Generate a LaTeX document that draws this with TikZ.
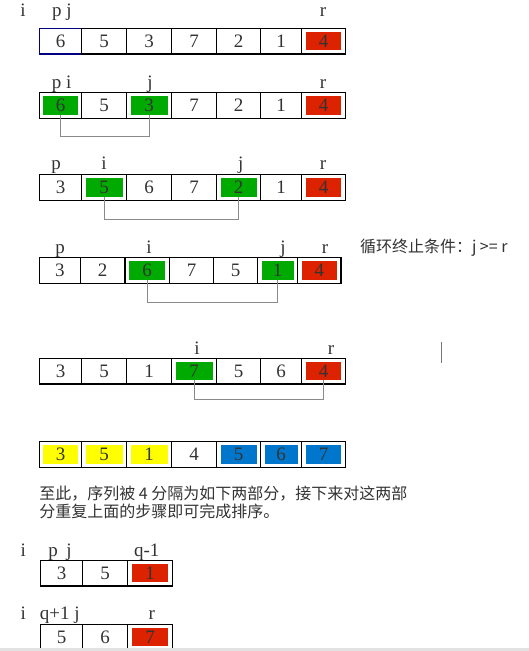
\documentclass[tikz,border=0pt]{standalone}
\usepackage{fontspec}
\setmainfont{Liberation Serif}
\newfontfamily\cjk{Noto Sans CJK SC}
\definecolor{cred}{HTML}{DD2200}
\definecolor{cgreen}{HTML}{00AA00}
\definecolor{cyellow}{HTML}{FFFF00}
\definecolor{cblue}{HTML}{0077CC}
\definecolor{cnavy}{HTML}{000080}
\definecolor{ctext}{HTML}{333333}
\definecolor{clink}{HTML}{8A8A8A}
\definecolor{cband}{HTML}{E2E2E2}
\definecolor{cstray}{HTML}{777777}
\tikzset{
  cellbox/.style={draw=black, line width=1.3pt, inner sep=0pt, outer sep=0pt, text=ctext, font=\fontsize{19}{19}\selectfont},
  fillbox/.style={draw=none, inner sep=0pt, outer sep=0pt},
  lab/.style={anchor=base, inner sep=0pt, outer sep=0pt, text=ctext, font=\fontsize{19}{19}\selectfont},
  note/.style={anchor=base west, inner sep=0pt, outer sep=0pt, text=ctext, font=\cjk\fontsize{16}{18.4}\selectfont},
  link/.style={draw=clink, line width=1pt},
}
\newcommand\mkcell[7][]{% [opts] name x1 x2 y1 y2 text
  \pgfmathsetmacro\cw{#4-#3}\pgfmathsetmacro\ch{#6-#5}%
  \pgfmathsetmacro\cx{(#3+#4)/2}\pgfmathsetmacro\cy{(#5+#6)/2}%
  \node[cellbox, minimum width=\cw pt, minimum height=\ch pt, #1] (#2) at (\cx,\cy) {#7};}
\newcommand\mkfill[6]{% name x1 x2 y1 y2 color
  \pgfmathsetmacro\cw{#3-#2-8}\pgfmathsetmacro\ch{#5-#4-7.5}%
  \pgfmathsetmacro\cx{(#2+#3)/2}\pgfmathsetmacro\cy{(#4+#5)/2}%
  \node[fillbox, fill=#6, minimum width=\cw pt, minimum height=\ch pt] (#1) at (\cx,\cy) {};}
\begin{document}
\begin{tikzpicture}[x=1pt, y=-1pt]
\useasboundingbox (0,0) rectangle (529,651);
\fill[white] (0,0) rectangle (529,651);

% ---------- Row 1
\node[lab] (l1i) at (23,16) {i};
\node[lab] (l1pj) at (62,16) {p j};
\node[lab] (l1r) at (323,16) {r};
\mkfill{r1f7}{301.7}{345.3}{28.3}{54}{cred}
\mkcell[draw=cnavy]{r1c1}{39.3}{81.7}{28.3}{54}{6}
\foreach \xa/\xb/\d [count=\k from 2] in {81.7/126.7/5,126.7/171.7/3,171.7/216.7/7,216.7/260.7/2,260.7/301.7/1,301.7/345.3/4}
  {\mkcell{r1c\k}{\xa}{\xb}{28.3}{54}{\d}}

% ---------- Row 2
\node[lab] (l2pi) at (61.7,88.3) {p i};
\node[lab] (l2j) at (150,88.3) {j};
\node[lab] (l2r) at (323,88.3) {r};
\mkfill{r2f1}{39.3}{81.7}{92.3}{118.3}{cgreen}
\mkfill{r2f3}{126.7}{171.7}{92.3}{118.3}{cgreen}
\mkfill{r2f7}{301.7}{345.3}{92.3}{118.3}{cred}
\foreach \xa/\xb/\d [count=\k] in {39.3/81.7/6,81.7/126.7/5,126.7/171.7/3,171.7/216.7/7,216.7/260.7/2,260.7/301.7/1,301.7/345.3/4}
  {\mkcell{r2c\k}{\xa}{\xb}{92.3}{118.3}{\d}}
\coordinate (b2) at (0,136);
\draw[link] (r2f1.south) -- (r2f1.south |- b2) -| (r2f3.south);

% ---------- Row 3
\node[lab] (l3p) at (56,169.3) {p};
\node[lab] (l3i) at (104,169.3) {i};
\node[lab] (l3j) at (240.7,169.3) {j};
\node[lab] (l3r) at (323,169.3) {r};
\mkfill{r3f2}{81.7}{126.7}{174.3}{200.3}{cgreen}
\mkfill{r3f5}{216.7}{260.7}{174.3}{200.3}{cgreen}
\mkfill{r3f7}{301.7}{345.3}{174.3}{200.3}{cred}
\foreach \xa/\xb/\d [count=\k] in {39.3/81.7/3,81.7/126.7/5,126.7/171.7/6,171.7/216.7/7,216.7/260.7/2,260.7/301.7/1,301.7/345.3/4}
  {\mkcell{r3c\k}{\xa}{\xb}{174.3}{200.3}{\d}}
\coordinate (b3) at (0,219.3);
\draw[link] (r3f2.south) -- (r3f2.south |- b3) -| (r3f5.south);

% ---------- Row 4
\node[lab] (l4p) at (60,253.3) {p};
\node[lab] (l4i) at (149,253.3) {i};
\node[lab] (l4j) at (283,253.3) {j};
\node[lab] (l4r) at (325,253.3) {r};
\node[note] (cond) at (360,252.8) {循环终止条件：j >= r};
\mkfill{r4f3}{125}{169.3}{257.3}{283.3}{cgreen}
\mkfill{r4f6}{257.7}{297.7}{257.3}{283.3}{cgreen}
\mkfill{r4f7}{297.7}{341}{257.3}{283.3}{cred}
\foreach \xa/\xb/\d [count=\k] in {39.3/80.3/3,80.3/125/2,125/169.3/6,169.3/213.7/7,213.7/257.7/5,257.7/297.7/1,297.7/341/4}
  {\mkcell{r4c\k}{\xa}{\xb}{257.3}{283.3}{\d}}
\coordinate (b4) at (0,302.3);
\draw[link] (r4f3.south) -- (r4f3.south |- b4) -| (r4f6.south);

% ---------- Row 5
\node[lab] (l5i) at (197,354) {i};
\node[lab] (l5r) at (331,354) {r};
\mkfill{r5f4}{171.7}{216.7}{358.3}{384}{cgreen}
\mkfill{r5f7}{301.7}{345.3}{358.3}{384}{cred}
\foreach \xa/\xb/\d [count=\k] in {39.3/81.7/3,81.7/126.7/5,126.7/171.7/1,171.7/216.7/7,216.7/260.7/5,260.7/301.7/6,301.7/345.3/4}
  {\mkcell{r5c\k}{\xa}{\xb}{358.3}{384}{\d}}
\coordinate (b5) at (0,399);
\draw[link] (r5f4.south) -- (r5f4.south |- b5) -| (r5f7.south);
\coordinate (s1) at (441.7,341.7);
\coordinate (s2) at (441.7,363.3);
\draw[draw=cstray, line width=1pt] (s1) -- (s2);

% ---------- Row 6
\mkfill{r6f1}{39.3}{81.7}{441.7}{467.3}{cyellow}
\mkfill{r6f2}{81.7}{126.7}{441.7}{467.3}{cyellow}
\mkfill{r6f3}{126.7}{171.7}{441.7}{467.3}{cyellow}
\mkfill{r6f5}{216.7}{260.7}{441.7}{467.3}{cblue}
\mkfill{r6f6}{260.7}{301.7}{441.7}{467.3}{cblue}
\mkfill{r6f7}{301.7}{345.3}{441.7}{467.3}{cblue}
\foreach \xa/\xb/\d [count=\k] in {39.3/81.7/3,81.7/126.7/5,126.7/171.7/1,171.7/216.7/4,216.7/260.7/5,260.7/301.7/6,301.7/345.3/7}
  {\mkcell{r6c\k}{\xa}{\xb}{441.7}{467.3}{\d}}

\node[note] (t1) at (39.3,499.4) {至此，序列被 4 分隔为如下两部分，接下来对这两部};
\node[note] (t2) at (39.3,517.8) {分重复上面的步骤即可完成排序。};

% ---------- Row 7
\node[lab] (l7i) at (23.3,556.7) {i};
\node[lab] (l7pj) at (60,556.7) {p\hspace{0.45em}j};
\node[lab] (l7q) at (146.7,556.7) {q-1};
\mkfill{r7f3}{127.7}{172.3}{560.7}{586}{cred}
\foreach \xa/\xb/\d [count=\k] in {40.7/82.3/3,82.3/127.7/5,127.7/172.3/1}
  {\mkcell{r7c\k}{\xa}{\xb}{560.7}{586}{\d}}

% ---------- Row 8
\node[lab] (l8i) at (23.3,619) {i};
\node[lab] (l8qj) at (59.7,619) {q+1 j};
\node[lab] (l8r) at (151.7,619) {r};
\mkfill{r8f3}{127.7}{172.3}{624.3}{650}{cred}
\foreach \xa/\xb/\d [count=\k] in {40.7/82.3/5,82.3/127.7/6,127.7/172.3/7}
  {\mkcell{r8c\k}{\xa}{\xb}{624.3}{650}{\d}}

\fill[cband] (0,648.3) rectangle (529,651);
\end{tikzpicture}
\end{document}
